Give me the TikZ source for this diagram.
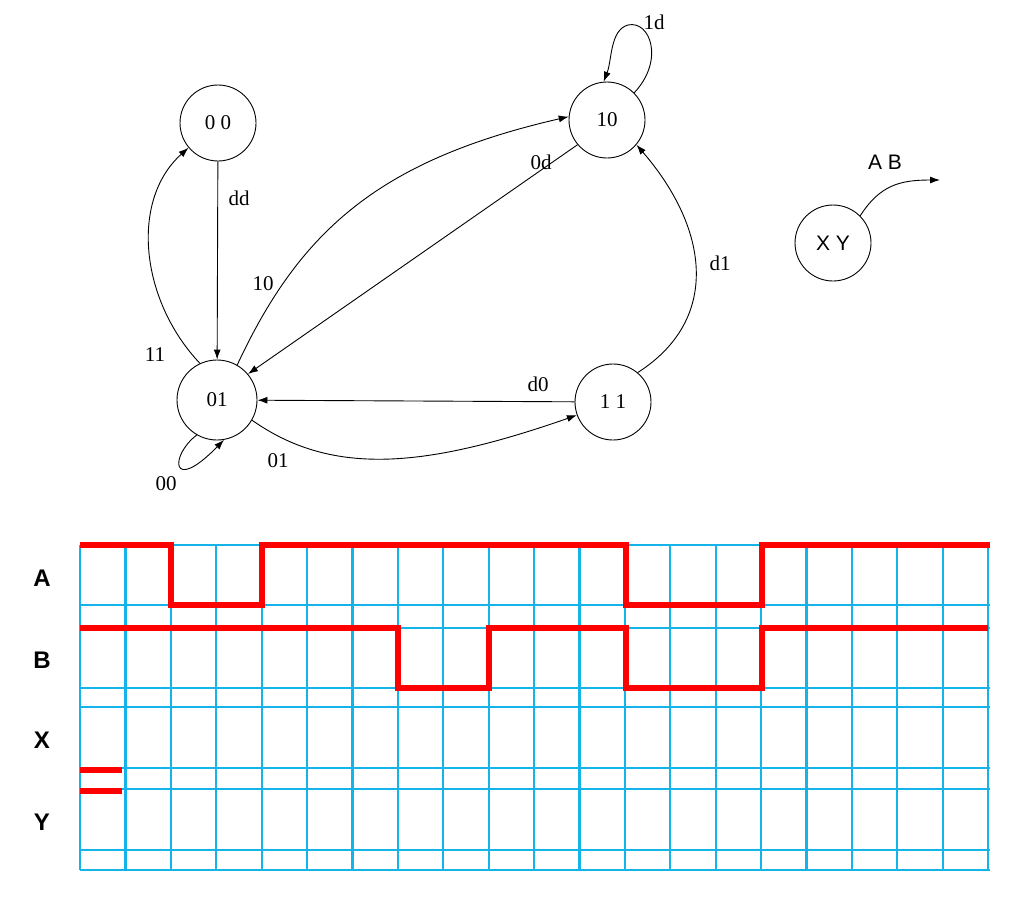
\documentclass[tikz,border=0pt]{standalone}
\usepackage{fontspec}
\setmainfont{Liberation Serif}
\setsansfont{Liberation Sans}
\usetikzlibrary{arrows.meta}
\begin{document}
\begin{tikzpicture}[x=1pt,y=-1pt,
  st/.style={draw,line width=0.9pt,circle,minimum size=76pt,inner sep=0pt,font=\fontsize{21}{21}\selectfont},
  ed/.style={-{Latex[length=10pt,width=7pt]},line width=0.9pt},
  lb/.style={font=\fontsize{21}{21}\selectfont},
  grid/.style={draw={rgb,255:red,20;green,180;blue,235},line width=2.2pt},
  wave/.style={draw=red,line width=6pt},
  sig/.style={font=\sffamily\bfseries\fontsize{24}{24}\selectfont}]
\useasboundingbox (0,0) rectangle (1024,897);
\node[st] (n00) at (218,123) {0 0};
\node[st,minimum size=80pt] (n01) at (217,400) {01};
\node[st] (n10) at (607,120) {10};
\node[st] (n11) at (613,402) {1 1};
\node[st,font=\sffamily\fontsize{21}{21}\selectfont] (xy) at (833,243) {X Y};
\coordinate (out) at (940,180);
\draw[ed] (n00) -- (n01);
\node[lb] (ldd) at (239,198) {dd};
\draw[ed] (n01.115) .. controls (140,300) and (130,200) .. (n00.220);
\node[lb] (l11) at (155,355) {11};
\draw[ed] (n01.240) .. controls (170,455) and (170,495) .. (n01.280);
\node[lb] (l00) at (166,484) {00};
\draw[ed] (n01.60) .. controls (300,230) and (380,160) .. (n10.175);
\node[lb] (l10) at (263,284) {10};
\draw[ed] (n10.220) -- (n01.40);
\node[lb] (l0d) at (541,162) {0d};
\draw[ed] (n11) -- (n01);
\node[lb] (ld0) at (538,384) {d0};
\draw[ed] (n01.330) .. controls (330,475) and (420,470) .. (n11.200);
\node[lb] (l01) at (278,461) {01};
\draw[ed] (n11.50) .. controls (720,320) and (710,230) .. (n10.320);
\node[lb] (ld1) at (720,263) {d1};
\draw[ed] (n10.45) .. controls (665,60) and (650,20) .. (628,25) .. controls (610,30) and (612,60) .. (n10.95);
\node[lb] (l1d) at (654,22) {1d};
\draw[ed] (xy.45) .. controls (880,185) and (900,180) .. (out);
\node[font=\sffamily\fontsize{21}{21}\selectfont] (lab) at (885,162) {A B};
% grid
\foreach \x in {80,125.4,...,990} \draw[grid] (\x,545) -- (\x,870);
\foreach \y in {545,605,628,688,707,768,789,850,870} \draw[grid] (80,\y) -- (990,\y);
\draw[wave] (80,545) -- (171,545) -- (171,605) -- (262,605) -- (262,545) -- (626,545) -- (626,605) -- (762,605) -- (762,545) -- (990,545);
\draw[wave] (80,628) -- (398,628) -- (398,688) -- (489,688) -- (489,628) -- (626,628) -- (626,688) -- (762,688) -- (762,628) -- (988,628);
\draw[wave] (80,770) -- (122,770);
\draw[wave] (80,791) -- (122,791);
\node[sig] (sA) at (42,578) {A};
\node[sig] (sB) at (42,660) {B};
\node[sig] (sX) at (42,740) {X};
\node[sig] (sY) at (42,822) {Y};
\end{tikzpicture}
\end{document}
